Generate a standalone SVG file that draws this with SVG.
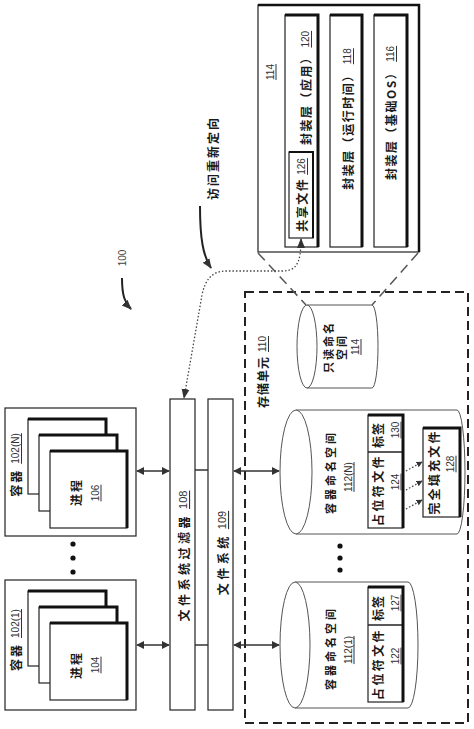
<svg xmlns="http://www.w3.org/2000/svg" width="474" height="729" viewBox="0 0 474 729">
<defs>
<style>
text{font-family:"Liberation Sans","Noto Sans CJK SC",sans-serif;fill:#1a1a1a;text-anchor:middle;dominant-baseline:central}
.zh{font-family:"Noto Sans CJK SC",sans-serif;font-weight:bold;font-size:12px}
.num{font-family:"Liberation Sans",sans-serif;font-size:10px;text-decoration:underline;font-weight:normal;fill:#333}
.box{fill:#fff;stroke:#222;stroke-width:1.2}
.sh{fill:none;stroke:#111;stroke-width:3}
.cyl{fill:#fff;stroke:#555;stroke-width:1}
.conn{fill:none;stroke:#333;stroke-width:1.5}
.dot{fill:none;stroke:#444;stroke-width:1.3;stroke-dasharray:1.5 2}
</style>
<marker id="ah" viewBox="0 0 10 10" refX="9" refY="5" markerWidth="8" markerHeight="8" markerUnits="userSpaceOnUse" orient="auto-start-reverse">
<path d="M0,0 L10,5 L0,10 z" fill="#333"/>
</marker>
<marker id="ah2" viewBox="0 0 10 10" refX="9" refY="5" markerWidth="10" markerHeight="10" markerUnits="userSpaceOnUse" orient="auto-start-reverse">
<path d="M0,1 L10,5 L0,9 z" fill="#333"/>
</marker>
<marker id="ahs" viewBox="0 0 10 10" refX="9" refY="5" markerWidth="6" markerHeight="6" markerUnits="userSpaceOnUse" orient="auto">
<path d="M0,0 L10,5 L0,10 z" fill="#333"/>
</marker>
</defs>
<rect width="474" height="729" fill="#fff"/>

<!-- label 100 -->
<g id="label100">
<text transform="translate(122,258) rotate(-90)" style="font-size:10px;fill:#444">100</text>
<path d="M122,278 C122,296 125,303 131,309" fill="none" stroke="#222" stroke-width="2" marker-end="url(#ah2)"/>
</g>

<!-- container N -->
<g id="container102N">
<rect class="box" x="5" y="408" width="131" height="128"/>
<text transform="translate(15,465) rotate(-90)"><tspan class="zh" style="letter-spacing:2px">容器</tspan><tspan class="num" dx="5">102(N)</tspan></text>
<rect class="box" x="28" y="419" width="78" height="75"/>
<polyline class="sh" points="28,419 106,419 106,494"/>
<rect class="box" x="39" y="435" width="78" height="76"/>
<polyline class="sh" points="39,435 117,435 117,511"/>
<rect class="box" x="50" y="451" width="77" height="77"/>
<polyline class="sh" points="50,451 127,451 127,528"/>
<text transform="translate(75,492) rotate(-90)" class="zh" style="letter-spacing:2px">进程</text>
<text transform="translate(95,493) rotate(-90)" class="num">106</text>
</g>

<g id="dots1" fill="#111">
<circle cx="73" cy="544" r="2.6"/><circle cx="73" cy="558" r="2.6"/><circle cx="73" cy="572" r="2.6"/>
</g>

<!-- container 1 -->
<g id="container1021">
<rect class="box" x="5" y="580" width="131" height="130"/>
<text transform="translate(15,640) rotate(-90)"><tspan class="zh" style="letter-spacing:2px">容器</tspan><tspan class="num" dx="5">102(1)</tspan></text>
<rect class="box" x="28" y="591" width="78" height="75"/>
<polyline class="sh" points="28,591 106,591 106,666"/>
<rect class="box" x="39" y="607" width="78" height="76"/>
<polyline class="sh" points="39,607 117,607 117,683"/>
<rect class="box" x="50" y="623" width="77" height="77"/>
<polyline class="sh" points="50,623 127,623 127,700"/>
<text transform="translate(75,665) rotate(-90)" class="zh" style="letter-spacing:2px">进程</text>
<text transform="translate(95,665) rotate(-90)" class="num">104</text>
</g>

<!-- file system filter -->
<g id="fsfilter108">
<rect class="box" x="170" y="399" width="25" height="311"/>
<text transform="translate(183,556) rotate(-90)"><tspan class="zh" style="letter-spacing:3.5px">文件系统过滤器</tspan><tspan class="num" style="font-size:11px" dx="4">108</tspan></text>
</g>
<g id="fs109">
<rect class="box" x="208" y="399" width="25" height="311"/>
<text transform="translate(222,553) rotate(-90)"><tspan class="zh" style="letter-spacing:3.5px">文件系统</tspan><tspan class="num" style="font-size:11px" dx="4">109</tspan></text>
</g>

<!-- storage unit -->
<g id="storage110">
<rect x="245" y="292" width="223" height="431" fill="none" stroke="#222" stroke-width="2" stroke-dasharray="9 5"/>
<text transform="translate(262,372) rotate(-90)"><tspan class="zh" style="letter-spacing:1px">存储单元</tspan><tspan class="num" dx="4">110</tspan></text>
</g>

<!-- namespace 112(1) -->
<g id="ns1121">
<path class="cyl" d="M295,582 L408,582 A10,63 0 0 1 408,708 L295,708 z"/>
<ellipse class="cyl" cx="295" cy="645" rx="15" ry="63"/>
<text transform="translate(330,648) rotate(-90)" class="zh" style="font-size:11px;letter-spacing:3px">容器命名空间</text>
<text transform="translate(348,650) rotate(-90)" class="num">112(1)</text>
<rect class="box" x="368" y="587" width="35" height="115"/>
<line x1="368" y1="625" x2="403" y2="625" stroke="#222" stroke-width="1.5"/>
<polyline class="sh" points="368,587 403,587 403,702"/>
<text transform="translate(377,664) rotate(-90)" class="zh" style="letter-spacing:2.4px">占位符文件</text>
<text transform="translate(395,656) rotate(-90)" class="num">122</text>
<text transform="translate(377,608) rotate(-90)" class="zh" style="letter-spacing:1px">标签</text>
<text transform="translate(395,603) rotate(-90)" class="num">127</text>
</g>

<g id="dots2" fill="#111">
<circle cx="340" cy="546" r="2.6"/><circle cx="340" cy="558" r="2.6"/><circle cx="340" cy="570" r="2.6"/>
</g>

<!-- namespace 112(N) -->
<g id="ns112N">
<path class="cyl" d="M296,410 L457,410 A8,62 0 0 1 457,534 L296,534 z"/>
<ellipse class="cyl" cx="296" cy="472" rx="16" ry="62"/>
<text transform="translate(330,472) rotate(-90)" class="zh" style="font-size:11px;letter-spacing:3px">容器命名空间</text>
<text transform="translate(348,477) rotate(-90)" class="num">112(N)</text>
<rect class="box" x="368" y="415" width="35" height="113"/>
<line x1="368" y1="452" x2="403" y2="452" stroke="#222" stroke-width="1.5"/>
<polyline class="sh" points="368,415 403,415 403,528"/>
<text transform="translate(377,490) rotate(-90)" class="zh" style="letter-spacing:2.4px">占位符文件</text>
<text transform="translate(395,482) rotate(-90)" class="num">124</text>
<text transform="translate(377,435) rotate(-90)" class="zh" style="letter-spacing:1px">标签</text>
<text transform="translate(395,430) rotate(-90)" class="num">130</text>
</g>
<g id="full128">
<rect class="box" x="423" y="428" width="37" height="89"/>
<polyline class="sh" points="423,428 460,428 460,517"/>
<text transform="translate(433,472) rotate(-90)" class="zh" style="letter-spacing:2.2px">完全填充文件</text>
<text transform="translate(450,464) rotate(-90)" class="num">128</text>
</g>

<!-- read-only namespace 114 -->
<g id="ro114">
<path class="cyl" d="M307,305 L372,305 A6,41.5 0 0 1 372,388 L307,388 z"/>
<ellipse class="cyl" cx="307" cy="346.5" rx="10" ry="41.5"/>
<text transform="translate(328,347) rotate(-90)" class="zh" style="font-size:11px;letter-spacing:2px">只读命名</text>
<text transform="translate(341,347) rotate(-90)" class="zh" style="font-size:11px;letter-spacing:2px">空间</text>
<text transform="translate(355,347) rotate(-90)" class="num">114</text>
</g>

<!-- callout box 114 -->
<g id="box114">
<rect class="box" x="258" y="5" width="161" height="247"/>
<polyline class="sh" points="258,5 419,5 419,252" style="stroke-width:2.5"/>
<text transform="translate(270,72) rotate(-90)" class="num">114</text>
</g>
<g id="layer120">
<rect class="box" x="285" y="15" width="33" height="232"/>
<polyline class="sh" points="285,15 318,15 318,247"/>
<text transform="translate(305,88) rotate(-90)"><tspan class="zh" style="letter-spacing:1.5px">封装层（应用）</tspan><tspan class="num" dx="3">120</tspan></text>
</g>
<g id="shared126">
<rect class="box" x="289" y="152" width="24" height="86"/>
<polyline class="sh" points="289,152 313,152 313,238" style="stroke-width:2"/>
<text transform="translate(301,195) rotate(-90)"><tspan class="zh" style="letter-spacing:1.5px">共享文件</tspan><tspan class="num" dx="3">126</tspan></text>
</g>
<g id="layer118">
<rect class="box" x="330" y="15" width="32" height="232"/>
<polyline class="sh" points="330,15 362,15 362,247"/>
<text transform="translate(347,119) rotate(-90)"><tspan class="zh" style="letter-spacing:1.5px">封装层（运行时间）</tspan><tspan class="num" dx="4">118</tspan></text>
</g>
<g id="layer116">
<rect class="box" x="374" y="15" width="33" height="232"/>
<polyline class="sh" points="374,15 407,15 407,247"/>
<text transform="translate(390,113) rotate(-90)"><tspan class="zh" style="letter-spacing:1.5px">封装层（基础OS）</tspan><tspan class="num" dx="4">116</tspan></text>
</g>

<!-- access redirect label -->
<g id="redirectLabel">
<text transform="translate(212,158) rotate(-90)" class="zh" style="letter-spacing:2px">访问重新定向</text>
<path d="M200,206 C200,238 203,256 211,268" fill="none" stroke="#222" stroke-width="2" marker-end="url(#ah2)"/>
</g>

<!-- connectors -->
<g id="connectors">
<line class="conn" x1="137" y1="471" x2="169" y2="471" marker-start="url(#ah)" marker-end="url(#ah)"/>
<line class="conn" x1="137" y1="645" x2="169" y2="645" marker-start="url(#ah)" marker-end="url(#ah)"/>
<line class="conn" x1="195" y1="470" x2="208" y2="470"/>
<line class="conn" x1="195" y1="645" x2="208" y2="645"/>
<line class="conn" x1="234" y1="471" x2="279" y2="471" marker-start="url(#ah)" marker-end="url(#ah)"/>
<line class="conn" x1="234" y1="645" x2="279" y2="645" marker-start="url(#ah)" marker-end="url(#ah)"/>
<path class="dot" d="M301,239 C301,264 296,271 282,271 L226,271 C212,271 205,280 202,295 L184,398" marker-start="url(#ah2)" marker-end="url(#ah2)"/>
<line x1="258" y1="253" x2="306" y2="305" stroke="#555" stroke-width="1.5" stroke-dasharray="10 6"/>
<line x1="418" y1="253" x2="372" y2="305" stroke="#555" stroke-width="1.5" stroke-dasharray="10 6"/>
<line class="dot" x1="406" y1="471" x2="422" y2="462" marker-end="url(#ahs)"/>
<line class="dot" x1="406" y1="490" x2="422" y2="481" marker-end="url(#ahs)"/>
<line class="dot" x1="406" y1="509" x2="422" y2="500" marker-end="url(#ahs)"/>
</g>
</svg>
